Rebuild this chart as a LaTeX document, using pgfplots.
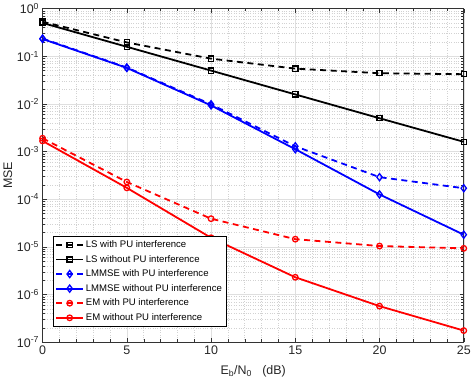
\documentclass[border=0pt]{standalone}
\usepackage{pgfplots}
\pgfplotsset{compat=1.18}
\usepackage{fontspec}
\setmainfont{Liberation Sans}
\begin{document}
\begin{tikzpicture}
\begin{semilogyaxis}[
  scale only axis,
  width=423pt, height=335pt,
  xmin=0, xmax=25, ymin=1e-7, ymax=1,
  xtick={0,5,10,15,20,25},
  minor x tick num=4,
  ytick={1e-7,1e-6,1e-5,1e-4,1e-3,1e-2,1e-1,1},
  yticklabels={10\textsuperscript{-7},10\textsuperscript{-6},10\textsuperscript{-5},10\textsuperscript{-4},10\textsuperscript{-3},10\textsuperscript{-2},10\textsuperscript{-1},10\textsuperscript{0}},
  /pgf/number format/assume math mode=true,
  tick label style={font=\fontsize{12.5}{14}\selectfont, black!85},
  label style={font=\fontsize{12.5}{14}\selectfont, black!85},
  xlabel={E\textsubscript{b}/N\textsubscript{0}~~~(dB)},
  ylabel={MSE},
  ylabel style={yshift=-2pt},
  xlabel style={yshift=-4pt},
  grid=both,
  major grid style={gray!25, line width=0.5pt},
  minor grid style={gray!35, dotted, line width=0.5pt},
  tick align=inside,
  axis line style={black!80, line width=0.6pt},
  tick style={black!80},
  legend style={at={(0.024,0.046)}, anchor=south west, draw=black, line width=0.6pt,
    font=\fontsize{9.6}{11}\selectfont, row sep=2.2pt, inner sep=2.5pt},
  legend cell align=left,
  legend image code/.code={\draw[mark repeat=2,mark phase=2] plot coordinates {(0cm,0cm) (0.47cm,0cm) (0.94cm,0cm)};},
  every axis plot/.append style={line width=1.8pt},
]
\addplot[black, dashed, dash pattern=on 6pt off 4.5pt, mark=square, mark size=2.6pt, mark options={solid, line width=1.3pt}]
  coordinates {(0,0.53) (5,0.195) (10,0.089) (15,0.055) (20,0.044) (25,0.042)};
\addlegendentry{LS with PU interference}
\addplot[black, mark=square, mark size=2.6pt, mark options={solid, line width=1.3pt}]
  coordinates {(0,0.50) (5,0.158) (10,0.050) (15,0.0158) (20,0.0050) (25,0.0016)};
\addlegendentry{LS without PU interference}
\addplot[blue, dashed, dash pattern=on 6pt off 4.5pt, mark=diamond, mark size=3.6pt, mark options={solid, line width=1.3pt}]
  coordinates {(0,0.235) (5,0.058) (10,0.0098) (15,0.00129) (20,0.00029) (25,0.00017)};
\addlegendentry{LMMSE with PU interference}
\addplot[blue, mark=diamond, mark size=3.6pt, mark options={solid, line width=1.3pt}]
  coordinates {(0,0.23) (5,0.057) (10,0.0093) (15,0.00112) (20,0.000126) (25,0.000018)};
\addlegendentry{LMMSE without PU interference}
\addplot[red, dashed, dash pattern=on 6pt off 4.5pt, mark=o, mark size=2.8pt, mark options={solid, line width=1.3pt}]
  coordinates {(0,0.0019) (5,0.00023) (10,0.000039) (15,0.0000145) (20,0.0000104) (25,0.0000093)};
\addlegendentry{EM with PU interference}
\addplot[red, mark=o, mark size=2.8pt, mark options={solid, line width=1.3pt}]
  coordinates {(0,0.00167) (5,0.000173) (10,0.0000155) (15,0.0000023) (20,0.00000057) (25,0.000000175)};
\addlegendentry{EM without PU interference}
\end{semilogyaxis}
\end{tikzpicture}
\end{document}
